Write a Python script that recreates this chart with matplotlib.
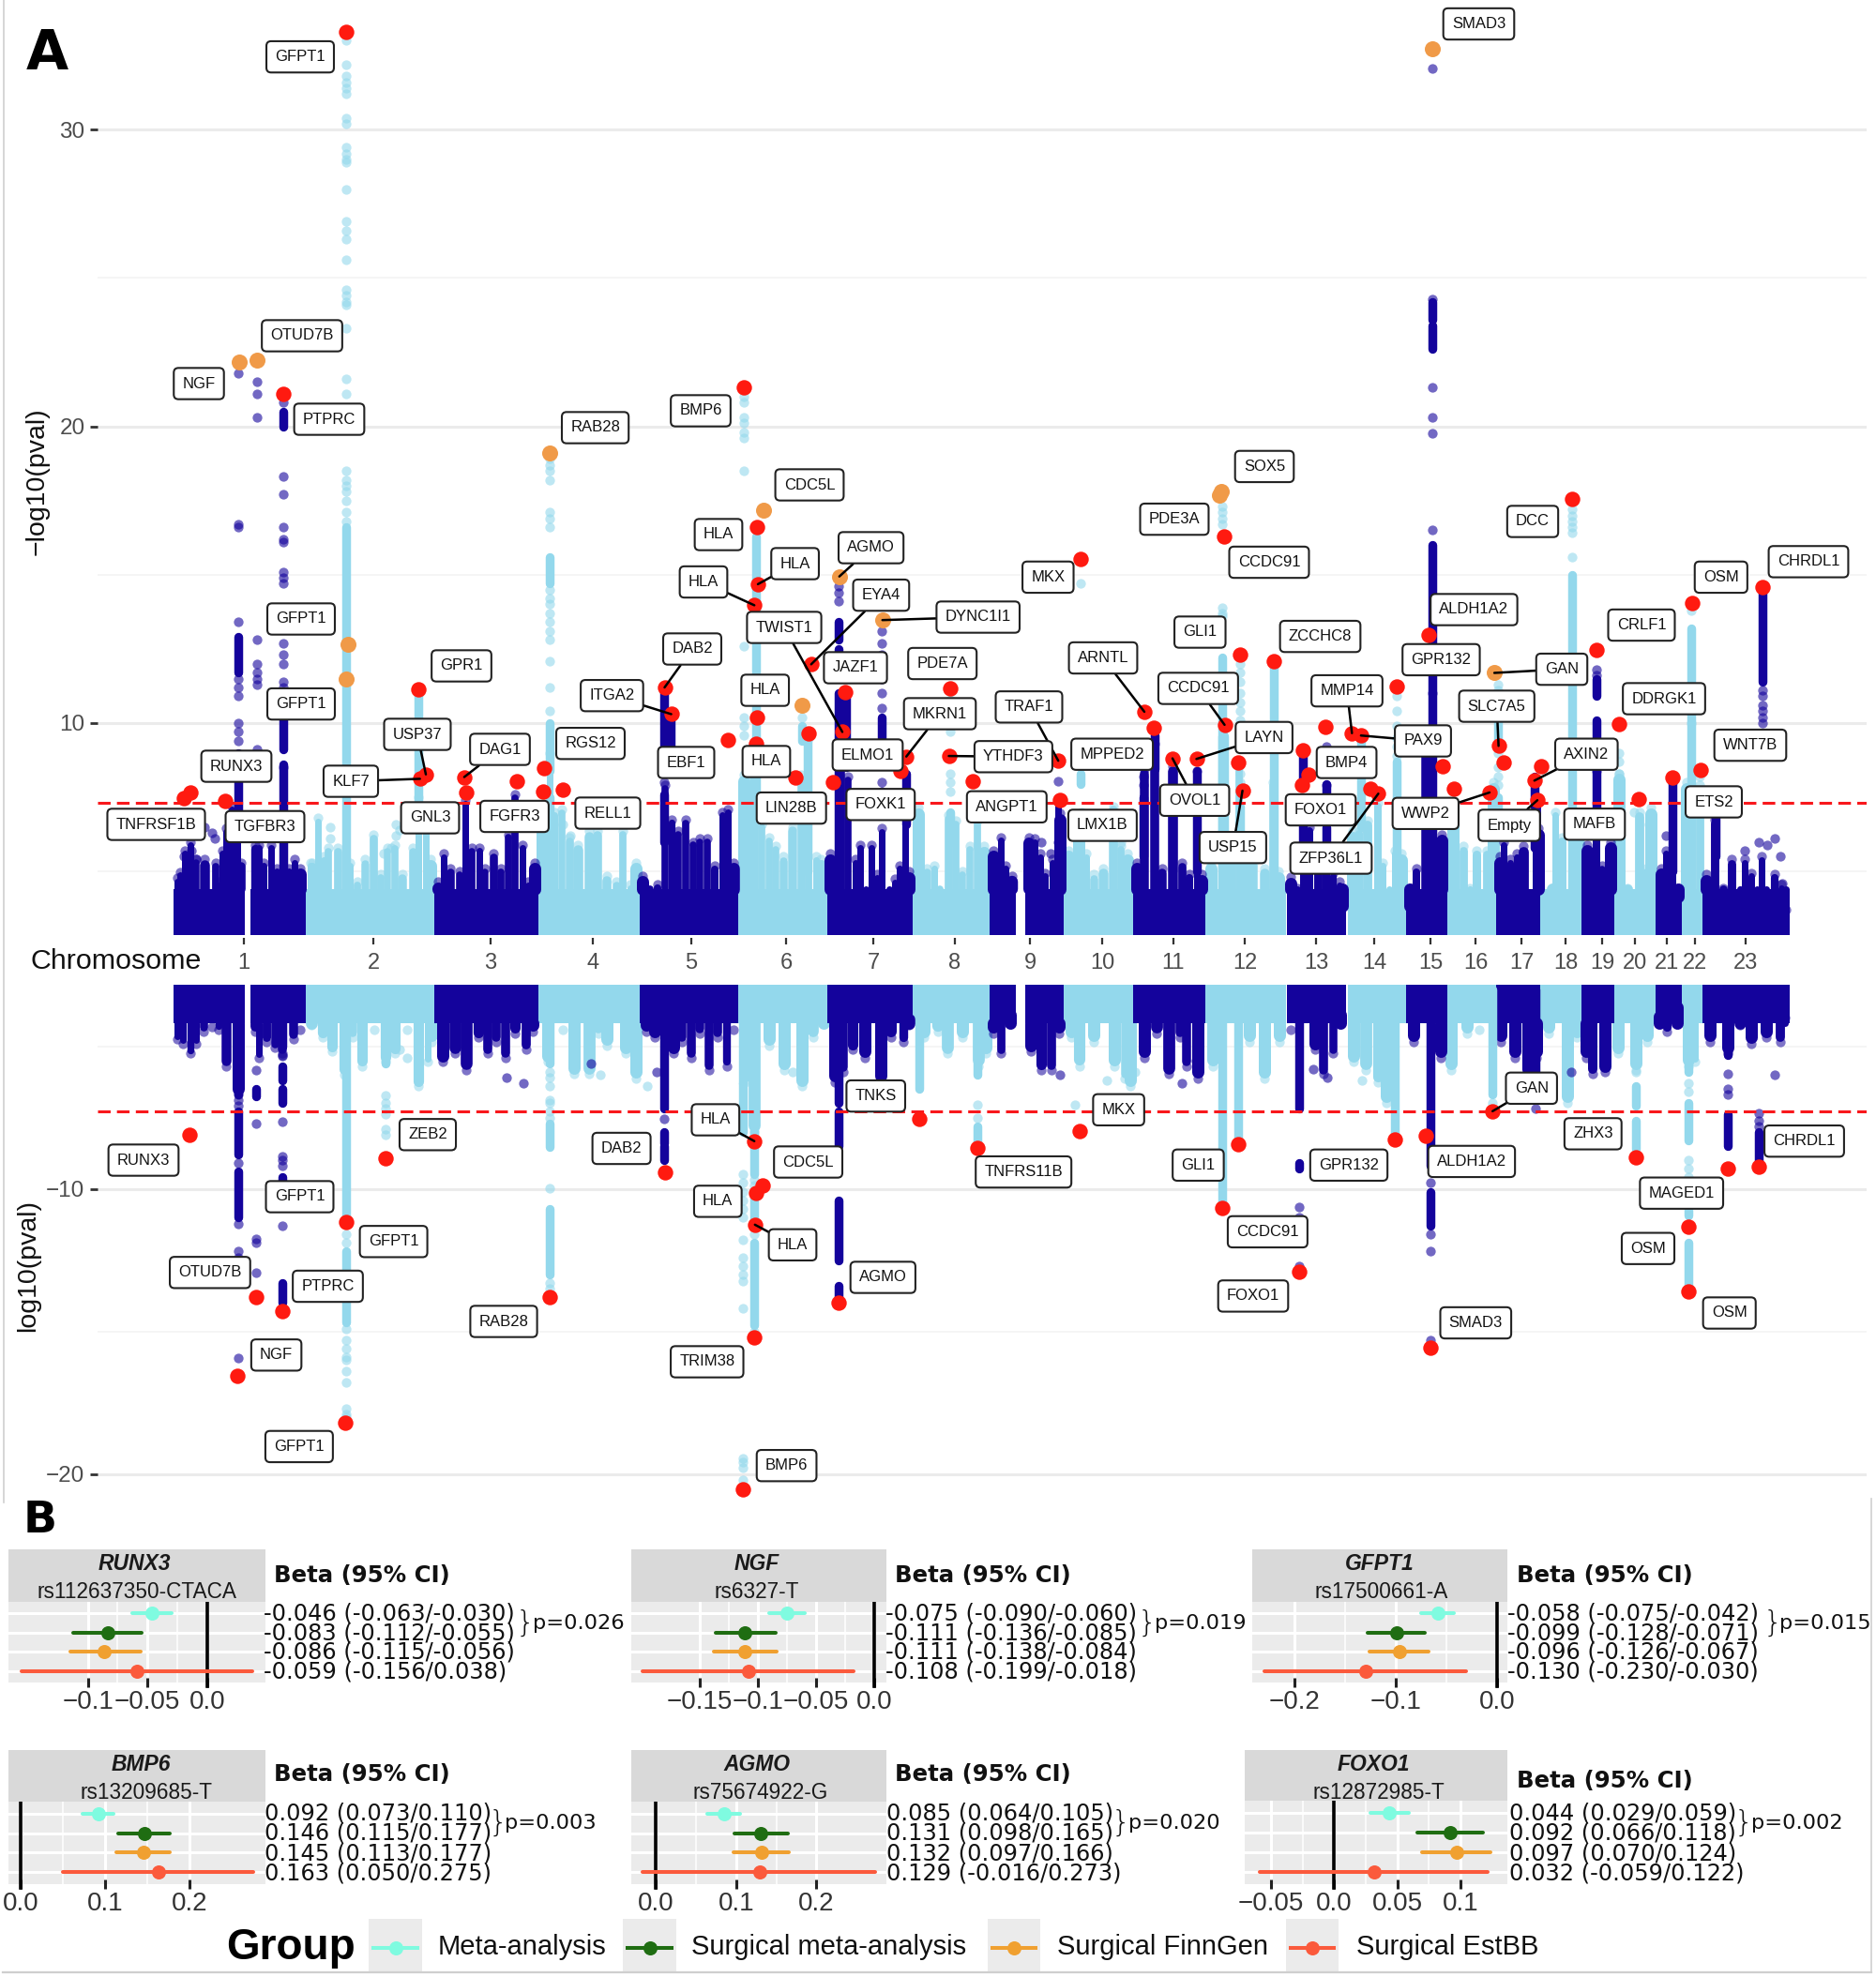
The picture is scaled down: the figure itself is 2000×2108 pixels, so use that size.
import matplotlib

matplotlib.use("Agg")
import matplotlib.pyplot as plt
from matplotlib.lines import Line2D
from matplotlib.patches import Rectangle
from matplotlib.transforms import Affine2D
import numpy as np

W, H = 2000, 2108
DARK = "#14039c"
LIGHT = "#93d8ec"
RED = "#ff1a10"
ORANGE = "#f09a48"
GRID = "#ebebeb"
TICK_TXT = "#4d4d4d"
THRESHOLD = 7.3

plt.rcParams["font.family"] = ["Liberation Sans", "DejaVu Sans"]

# chromosome axis
CHR_NAMES = [str(i) for i in range(1, 24)]
CHR_TICKS = [260, 398, 523, 632, 737, 838, 931, 1018, 1098, 1175, 1251, 1327,
             1403, 1465, 1525, 1573, 1622, 1669, 1708, 1743, 1777, 1807, 1861]
DARK_SPANS = [(185, 261), (267, 326), (463, 574), (682, 787), (882, 973),
              (1055, 1083), (1093, 1134), (1208, 1285), (1372, 1435),
              (1499, 1543), (1595, 1642), (1686, 1721), (1765, 1793), (1815, 1908)]
LIGHT_SPANS = [(326, 463), (574, 682), (787, 882), (973, 1055), (1134, 1208),
               (1285, 1371), (1437, 1499), (1543, 1595), (1642, 1686),
               (1721, 1765), (1793, 1815)]

# upper panel: outline of the dense point cloud
TOP_DARK_X = [189, 191.5, 197, 203, 209, 218, 230, 233.6, 237.4, 241, 247, 252.7, 257,
              272, 275.7, 281.4, 289, 295, 302, 308, 314, 320,
              467, 472.8, 480.4, 490, 495.7, 503.4, 511, 516.8, 526, 534, 541.6, 549.3, 557, 562.7, 570,
              685, 692.8, 700.5, 709, 715.8, 723.4, 731, 738.8, 746.4, 754, 761.7, 770, 775.7, 781.5,
              884.8, 896.3, 904, 911.6, 917.3, 923, 928.8, 934.6, 940.3, 948, 953.7, 959.4, 965.2, 969,
              1059, 1066.6, 1072.3, 1079,
              1097.2, 1103, 1108.7, 1114.4, 1122, 1127.8, 1130,
              1212, 1219.7, 1231, 1238.8, 1250, 1259.8, 1267.5, 1276, 1281,
              1376, 1383, 1388.6, 1395.7, 1404.6, 1413.6, 1420.7, 1427.9, 1431,
              1503, 1510, 1519, 1527, 1536.8,
              1599.3, 1602.9, 1610, 1617, 1624.3, 1638.6, 1640,
              1692, 1701.8, 1708, 1717,
              1770.7, 1776, 1783, 1789,
              1819, 1827.9, 1836.8, 1845.7, 1854.6, 1860, 1867, 1872.5, 1877.9, 1883, 1892, 1899.3, 1904]
TOP_DARK_Y = [4.77, 4.98, 5.7, 6.0, 5.4, 5.4, 5.3, 4.65, 5.7, 6.45, 7.2, 8.3, 5.3,
              5.9, 5.9, 5.3, 5.9, 5.1, 8.5, 5.1, 5.4, 5.1,
              4.65, 5.6, 5.1, 5.0, 7.4, 5.8, 5.8, 5.1, 5.6, 5.1, 6.25, 7.6, 5.9, 4.65, 5.3,
              4.85, 4.25, 4.55, 7.9, 6.75, 6.35, 6.75, 6.0, 6.1, 6.1, 5.2, 7.0, 7.1, 5.3,
              5.6, 9.3, 8.2, 5.4, 5.9, 4.25, 5.9, 4.9, 6.45, 4.25, 4.75, 5.2, 8.25, 5.0,
              5.7, 6.15, 5.2, 4.85,
              6.15, 6.1, 5.6, 4.95, 5.4, 7.4, 6.95,
              5.3, 8.45, 9.3, 5.1, 8.55, 5.3, 4.9, 8.4, 4.9,
              4.8, 4.45, 7.0, 6.5, 5.1, 7.9, 4.95, 4.65, 4.05,
              4.05, 5.1, 9.2, 11.0, 6.25,
              5.5, 6.0, 5.4, 5.6, 5.85, 7.4, 6.45,
              5.9, 8.4, 5.2, 6.0,
              5.1, 5.7, 8.0, 4.35,
              4.9, 6.75, 4.45, 5.4, 3.85, 5.4, 4.95, 3.85, 5.5, 4.05, 4.9, 4.55, 3.7]
TOP_LIGHT_X = [331, 333, 339, 344.6, 350, 360, 367.5, 373, 381, 388.6, 398, 406, 413.4, 421,
               428.8, 440, 446, 453.6, 459,
               578, 585.7, 591.4, 599, 606.7, 616.3, 627.8, 637.3, 647, 656.5, 664, 672, 678,
               793, 804.4, 812, 819.8, 827.4, 835, 844.6, 854, 861.8, 869.5, 875,
               978.6, 988, 995.8, 1001.5, 1011, 1018.8, 1026.4, 1034, 1041.7, 1049.4,
               1139.3, 1147, 1152.7, 1158.4, 1166, 1175.7, 1187, 1194.8, 1202.4,
               1290.5, 1303.9, 1313.4, 1321, 1328.8, 1336.4, 1347.9, 1357.4, 1363,
               1442, 1449.3, 1458.2, 1469, 1474.3, 1481.4, 1486.8, 1494,
               1549.3, 1560, 1567, 1574.3, 1585, 1592,
               1654.6, 1658, 1665.4, 1676, 1683,
               1726, 1735, 1747.5, 1754.6, 1760,
               1797.5, 1803, 1811.8]
TOP_LIGHT_Y = [5.3, 5.3, 6.8, 5.5, 5.8, 5.8, 8.0, 5.3, 4.65, 5.4, 6.25, 4.9, 5.8, 5.9,
               4.9, 5.8, 7.5, 7.2, 5.4,
               7.2, 9.0, 7.0, 7.1, 6.15, 5.9, 6.35, 6.35, 4.85, 4.65, 6.35, 4.55, 5.3,
               8.25, 9.3, 6.6, 6.15, 5.85, 5.5, 6.5, 8.25, 9.5, 5.5, 5.4,
               7.15, 5.1, 5.2, 4.3, 6.9, 6.7, 5.0, 5.85, 6.7, 5.85,
               5.7, 6.15, 7.0, 5.6, 4.9, 5.1, 7.2, 5.85, 5.6,
               5.3, 9.75, 6.15, 8.55, 5.9, 5.3, 5.1, 8.0, 5.0,
               6.35, 6.4, 6.7, 7.3, 5.3, 4.15, 5.7, 5.6,
               7.1, 5.85, 4.45, 5.7, 5.7, 8.0,
               4.05, 7.0, 6.15, 9.0, 6.15,
               8.3, 4.45, 7.0, 5.1, 7.15,
               8.0, 10.0, 7.2]

# upper panel: columns above the cloud (x, separate points, solid runs)
TOP_DARK_COLS = [
    (254, [21.8, 16.7, 16.6, 13.4, 11.5, 11.2, 10.9, 10.0, 9.7, 9.4], [(11.7, 12.9), (7.0, 9.0)]),
    (274, [21.5, 21.1, 20.3, 12.8, 12.0, 11.7, 11.5, 11.3, 9.1, 8.8, 8.3], []),
    (302, [20.8, 18.3, 17.7, 16.6, 16.2, 16.1, 15.1, 14.9, 14.7, 12.7, 12.3, 12.0, 11.4, 11.2],
     [(20.0, 20.5), (9.1, 10.4), (5.0, 8.6)]),
    (708, [8.0], [(8.4, 11.2), (6.0, 7.6)]),
    (715, [], [(8.6, 10.3)]),
    (894, [14.6, 14.4, 14.1], [(12.8, 13.4), (12.0, 12.5), (5.0, 11.0)]),
    (902, [], [(8.5, 10.9)]),
    (940, [13.1, 12.7, 12.3, 12.0, 11.5, 11.0, 10.5, 8.0, 7.7], [(9.3, 10.2)]),
    (966, [], [(6.6, 8.3)]),
    (1128, [8.05], []),
    (1219, [8.2, 7.9], [(5.5, 7.5)]),
    (1231, [], [(8.45, 9.6)]),
    (1250, [], [(7.9, 8.4), (5.0, 7.2)]),
    (1276, [], [(7.9, 8.4), (5.0, 7.2)]),
    (1389, [], [(8.1, 8.9), (5.0, 7.0)]),
    (1414, [9.2, 8.9], [(7.6, 7.95), (5.0, 6.5)]),
    (1527, [32.06, 24.3, 21.3, 20.3, 19.76, 16.5], [(23.6, 24.2), (22.6, 23.4), (9.0, 16.0), (3.5, 9.0)]),
    (1636, [], [(7.2, 8.2), (5.8, 7.0)]),
    (1702, [11.8, 11.6], [(10.9, 11.5), (9.3, 10.1), (6.5, 8.4)]),
    (1783, [], [(5.0, 8.1)]),
    (1829, [], [(5.5, 6.8)]),
    (1879, [11.1, 10.9, 10.6, 10.4, 10.2, 10.0], [(11.4, 14.4)]),
]
TOP_LIGHT_COLS = [
    (368.6, [33.0, 32.2, 31.8, 31.6, 31.4, 31.2, 30.4, 30.2, 29.4, 29.2, 29.0, 28.9, 28.0, 26.9, 26.6, 26.3,
             25.6, 24.6, 24.4, 24.2, 24.1, 23.3, 21.6, 21.1, 18.5, 18.2, 18.0, 17.8, 17.5, 17.1, 16.8],
     [(3.5, 16.6)]),
    (585.5, [18.9, 18.7, 18.5, 18.2, 17.1, 16.9, 16.6, 14.5, 14.2, 14.0, 13.7, 13.4, 13.1, 12.8, 12.1, 11.2, 10.4],
     [(14.7, 15.6), (8.4, 10.0), (3.5, 7.5)]),
    (793, [21.0, 20.8, 20.3, 20.1, 19.8, 19.6, 18.5, 12.6, 10.2, 9.9, 9.6], [(4.0, 8.0)]),
    (806, [], [(7.0, 16.3)]),
    (855, [10.2], [(9.4, 9.9)]),
    (861, [], [(5.0, 9.6)]),
    (446, [], [(7.2, 11.0)]),
    (1013, [10.8, 9.7, 8.3, 8.0, 7.7], [(6.0, 7.0)]),
    (1152, [14.7], [(7.95, 8.3)]),
    (1303, [17.3, 17.1, 16.9, 16.7, 13.9, 13.7, 13.6], [(3.5, 12.2)]),
    (1322, [12.0, 11.7, 11.4, 11.0, 10.7, 10.4, 10.1, 9.8, 9.5, 8.3, 8.0, 7.7], [(3.5, 7.2)]),
    (1358, [], [(3.5, 12.0)]),
    (1451, [], [(6.5, 9.4)]),
    (1489, [10.9, 10.4, 9.9, 9.5, 9.2, 8.9], [(7.4, 8.7), (5.0, 6.8)]),
    (1597, [11.3, 11.1, 10.9, 10.4, 9.0, 8.5, 8.2, 7.9], [(6.5, 7.5), (9.4, 10.1)]),
    (1676, [17.2, 17.0, 16.8, 16.6, 16.4, 15.6], [(3.5, 15.0)]),
    (1726, [9.0, 8.7, 8.3, 7.9, 7.4], []),
    (1803, [13.8], [(3.5, 13.2)]),
    (1812, [8.2, 7.9], []),
    (352, [6.5, 6.1], []),
    (422, [6.6, 6.2], []),
]
TOP_DARK_DOTS_X = [218, 226, 229, 196, 204, 209, 1120, 1128, 1110, 1875, 1884, 1892, 1898, 1860, 1776, 1900]
TOP_DARK_DOTS_Y = [6.5, 6.3, 6.1, 5.5, 5.7, 5.4, 5.6, 6.0, 6.0, 6.0, 5.9, 6.1, 5.5, 5.7, 6.2, 4.6]
TOP_LIGHT_DOTS_X = [426, 417, 409, 600, 608, 1195, 1200, 1290, 1400, 1742, 1758]
TOP_LIGHT_DOTS_Y = [6.4, 5.8, 5.6, 6.6, 6.2, 6.0, 6.4, 5.5, 5.3, 7.0, 6.6]

# upper panel: lead variants
TOP_RED_X = [195.8, 202.8, 240.4, 301.7, 368.6, 446.4, 454, 447.7, 494.9, 496.8, 551, 580.4, 579, 599.5,
             708.5, 715.6, 776, 793.4, 806.8, 808, 804.2, 864.8, 806.8, 805.5, 861.6, 848.2, 888.4, 898,
             901.1, 966.2, 959.8, 1012.8, 1011.5, 1037, 1128.2, 1130, 1151.8, 1220, 1230.2, 1250, 1275.5,
             1305.5, 1304.8, 1322, 1320, 1324.6, 1358.4, 1389, 1395.4, 1387.8, 1413.3, 1441.3, 1450.9,
             1489.2, 1460.5, 1469.4, 1523, 1538.3, 1549.7, 1588, 1597.6, 1602.7, 1642.9, 1635.8, 1639,
             1676, 1701.5, 1725.8, 1747.4, 1783.2, 1803.6, 1812.5, 1878.8]
TOP_RED_Y = [7.46, 7.66, 7.38, 21.1, 33.3, 11.13, 8.27, 8.12, 8.18, 7.66, 8.04, 8.47, 7.7, 7.76,
             11.2, 10.3, 9.44, 21.33, 16.6, 14.68, 13.97, 11.98, 10.18, 9.3, 9.66, 8.17, 8.02, 9.7,
             11.03, 8.87, 8.4, 11.17, 8.89, 8.04, 8.73, 7.42, 15.52, 10.38, 9.84, 8.81, 8.79,
             9.94, 16.29, 12.32, 8.67, 7.72, 12.08, 9.09, 8.27, 7.92, 9.86, 9.66, 9.58,
             11.23, 7.78, 7.62, 12.98, 8.53, 7.8, 7.66, 9.23, 8.67, 8.53, 8.06, 7.4,
             17.54, 12.46, 9.98, 7.44, 8.15, 14.05, 8.43, 14.58]
TOP_ORANGE_X = [254.5, 274.2, 370.5, 369.3, 585.5, 813.8, 894.8, 940.7, 855.2, 1527.4, 1301.7, 1299.7, 1593.1]
TOP_ORANGE_Y = [22.16, 22.22, 12.64, 11.5, 19.11, 17.18, 14.94, 13.47, 10.6, 32.72, 17.8, 17.68, 11.69]

# lower panel: outline of the dense point cloud
BOT_DARK_X = [189, 194.5, 202.8, 209.2, 216.8, 226.4, 232.8, 241, 253.8,
              272, 275.5, 283.8, 293.4, 301, 312.5, 320,
              472, 484.7, 497.4, 510, 519.8, 529.3, 539, 548.5, 561, 568,
              688.8, 698.3, 717.5, 727, 736.6, 746.2, 755.7, 765.3, 774.9, 782,
              889.7, 899.2, 908.8, 921.6, 938.8, 950.3, 963, 969,
              1059, 1067, 1076.5, 1098.9, 1109.7, 1121.2, 1129,
              1220, 1232.8, 1245.5, 1258.3, 1264.7, 1277.4,
              1376.3, 1401.8, 1411.4, 1421, 1428.6,
              1507, 1535.7, 1599.5, 1615.4, 1628.2, 1637.8,
              1691, 1698.3, 1711, 1769, 1776.8, 1787.6,
              1822.7, 1841.8, 1854.6, 1867.3, 1883.3, 1898, 1903]
BOT_DARK_Y = [-4.76, -4.91, -5.26, -4.91, -4.48, -4.34, -4.41, -5.69, -6.7,
              -4.48, -5.4, -4.84, -5.05, -5.26, -4.76, -4.41,
              -5.55, -5.26, -5.83, -4.69, -5.26, -4.84, -5.4, -4.55, -5.12, -4.48,
              -4.48, -4.69, -5.26, -4.84, -5.4, -4.55, -5.83, -4.69, -5.69, -4.41,
              -6.26, -5.91, -5.12, -5.4, -6.26, -4.69, -4.84, -4.27,
              -4.55, -5.26, -4.12, -5.19, -5.83, -5.83, -4.55,
              -5.4, -4.55, -5.98, -4.69, -5.69, -6.12,
              -4.41, -5.12, -5.98, -5.26, -4.12,
              -4.84, -5.4, -4.84, -5.4, -5.98, -5.4,
              -5.4, -5.98, -5.91, -4.19, -4.48, -3.84,
              -4.84, -5.26, -4.27, -4.91, -4.69, -4.84, -3.98]
BOT_LIGHT_X = [331.6, 344.4, 354, 366.7, 376.3, 385.8, 398.6, 411.4, 421, 433.7, 446.4, 456, 460,
               583.5, 599.5, 612.2, 628, 637.8, 647.3, 666.5, 678,
               794, 804, 819.5, 835.5, 854.6, 867.3, 878,
               985, 1000, 1009.6, 1025.5, 1043.4, 1051,
               1141.6, 1151, 1165.8, 1188, 1199, 1205,
               1293.4, 1331.6, 1347.6, 1363.5,
               1443.2, 1456, 1468.8, 1478.3,
               1547.2, 1564.4, 1577,
               1650.5, 1670.9, 1681,
               1725, 1743.6, 1755.7, 1800.4, 1806.8]
BOT_LIGHT_Y = [-4.27, -4.69, -5.19, -6.0, -4.69, -5.69, -4.41, -5.55, -5.26, -4.41, -6.41, -5.55, -4.84,
               -5.55, -4.41, -5.98, -5.98, -4.55, -4.98, -5.26, -6.12,
               -6.26, -8.0, -4.98, -5.83, -6.41, -4.69, -4.12,
               -4.7, -4.5, -5.26, -4.69, -5.69, -5.26,
               -4.69, -5.69, -4.84, -5.69, -6.12, -6.41,
               -5.69, -4.84, -6.12, -4.84,
               -5.55, -5.83, -6.26, -6.98,
               -5.83, -4.55, -4.41,
               -4.55, -6.98, -4.69,
               -5.26, -5.83, -4.84, -5.69, -5.55]

BOT_DARK_COLS = [
    (253.5, [-6.9, -7.1, -9.1, -11.23, -12.18, -12.4, -15.95], [(-6.7, -3.0), (-8.8, -7.3), (-11.0, -9.4)]),
    (273, [-5.85, -7.7, -11.75, -11.9, -12.94], [(-6.75, -6.5)]),
    (301, [-5.3, -5.35, -7.65, -8.85, -9.0, -9.2, -11.3],
     [(-5.0, -4.0), (-6.2, -5.7), (-7.0, -6.5), (-10.2, -9.6), (-14.0, -13.3)]),
    (708, [-7.55], [(-7.2, -3.0), (-8.4, -8.0), (-9.0, -8.5)]),
    (893.5, [], [(-7.0, -3.0), (-8.5, -7.3), (-12.5, -10.4), (-14.0, -13.4)]),
    (1385, [-10.65, -11.0, -11.3, -11.6, -12.7], [(-7.2, -3.0), (-9.3, -9.1)]),
    (1525, [-9.8, -11.6, -12.2, -15.3], [(-9.2, -3.0), (-11.3, -10.1)]),
    (1637, [-7.2], [(-6.5, -3.0)]),
    (1842, [-5.97, -6.5, -6.7], [(-5.3, -4.2), (-8.5, -7.4)]),
    (1875, [-7.35, -7.6, -7.8], [(-9.1, -8.0)]),
]
BOT_LIGHT_COLS = [
    (368.6, [-11.6, -11.9, -13.0, -13.6, -14.9, -15.3, -15.6, -15.9, -16.0, -16.4, -16.8, -17.7, -17.9, -18.0],
     [(-11.0, -3.0), (-12.8, -12.2), (-14.7, -14.0)]),
    (410.7, [-6.73, -7.0, -7.2, -7.4, -7.9, -8.1], [(-5.6, -4.0)]),
    (585.5, [-5.9, -6.1, -6.4, -6.9, -7.0, -7.3, -7.5, -9.97, -13.3, -13.5],
     [(-5.6, -3.0), (-8.55, -7.7), (-13.0, -10.7)]),
    (804, [-9.7, -9.9, -11.6, -15.0], [(-9.5, -3.0), (-11.2, -10.2), (-14.8, -11.9)]),
    (792, [-9.5, -9.8, -10.1, -10.4, -10.7, -11.0, -11.8, -12.4, -12.7, -13.0, -13.25, -14.2, -19.45, -19.6,
           -19.8, -20.2], [(-6.3, -3.0), (-8.0, -6.3)]),
    (980, [], [(-6.5, -3.0)]),
    (1042, [-7.05, -7.5], [(-6.0, -3.0), (-8.4, -7.8)]),
    (1303, [], [(-10.5, -3.0)]),
    (1319.5, [], [(-8.2, -3.0)]),
    (1487, [], [(-8.1, -3.0)]),
    (1591, [-7.0], [(-6.7, -3.0)]),
    (1743.6, [-5.0, -5.9], [(-7.1, -6.4), (-8.6, -7.6)]),
    (1800, [-6.3, -6.6, -9.0, -9.3, -9.6, -10.0], [(-5.9, -3.0), (-8.3, -7.0), (-10.95, -10.7), (-13.4, -11.9)]),
]
BOT_DARK_DOTS_X = [540, 558, 630, 700, 1130, 1260, 1275, 1400, 1415, 1675, 1892]
BOT_DARK_DOTS_Y = [-6.1, -6.3, -5.6, -5.9, -6.0, -6.3, -5.5, -5.8, -6.1, -5.9, -6.0]
BOT_LIGHT_DOTS_X = [426, 434, 690, 640, 845, 1146, 1184, 1210, 1180, 1452]
BOT_LIGHT_DOTS_Y = [-5.1, -5.4, -6.4, -6.0, -5.9, -7.05, -6.9, -5.9, -6.2, -6.2]

BOT_RED_X = [202.2, 410.7, 273, 301, 253.2, 368.6, 368, 585.5, 708.5, 804.2, 813, 805.5, 804.8, 803.6, 792,
             893.5, 980.2, 1042, 1150.5, 1303, 1319.5, 1385.2, 1487, 1519.8, 1524.9, 1591.2, 1743.6,
             1800.4, 1800.4, 1841.8, 1875]
BOT_RED_Y = [-8.12, -8.93, -13.79, -14.29, -16.56, -11.16, -18.19, -13.79, -9.42, -8.33, -9.9, -10.14, -11.26,
             -15.22, -20.53, -13.98, -7.56, -8.56, -7.97, -10.66, -8.42, -12.9, -8.27, -8.13, -15.56, -7.28,
             -8.9, -11.34, -13.59, -9.3, -9.22]

# gene labels: name, box centre in image pixels, variant the connector goes to
TOP_LABELS = [
    ("GFPT1", 320, 60.6, None), ("OTUD7B", 322, 358, None), ("NGF", 212, 409, None), ("PTPRC", 351, 447, None),
    ("RAB28", 634.6, 456, None), ("BMP6", 747, 438, None), ("CDC5L", 863, 517, None), ("HLA", 766, 570, None),
    ("HLA", 847.6, 601, (808, 14.68)), ("AGMO", 928.6, 584, (894.8, 14.94)), ("HLA", 750, 620.5, (804.2, 13.97)),
    ("EYA4", 939.4, 634.6, (864.8, 11.98)), ("DYNC1I1", 1042.7, 658, (940.7, 13.47)),
    ("TWIST1", 836, 669, (898, 9.7)), ("GFPT1", 321, 660, None), ("GFPT1", 321, 750.6, None), ("GPR1", 492, 710, None),
    ("DAB2", 738, 692, (708.5, 11.2)), ("JAZF1", 912, 712, None), ("PDE7A", 1004.7, 707.5, None),
    ("ITGA2", 652.4, 741.7, (715.6, 10.3)), ("HLA", 815.7, 736, None), ("USP37", 445, 783, (454, 8.27)),
    ("DAG1", 533, 799, (494.9, 8.18)), ("RGS12", 629.5, 792.7, None), ("MKRN1", 1002, 761, (966.2, 8.87)),
    ("EBF1", 731.5, 813, None), ("HLA", 817, 812, None), ("ELMO1", 925, 805, None), ("RUNX3", 252, 817, None),
    ("KLF7", 374, 833, (447.7, 8.12)), ("GNL3", 458.5, 872, None), ("FGFR3", 548.5, 870.5, None),
    ("RELL1", 648, 867, None), ("LIN28B", 843.7, 861.6, None), ("FOXK1", 938.8, 857.8, None),
    ("TNFRSF1B", 166.5, 879, None), ("TGFBR3", 282.5, 881.4, None),
    ("SMAD3", 1576.5, 25.5, None), ("SOX5", 1348, 497.4, None), ("PDE3A", 1252, 553.6, None), ("DCC", 1634, 556, None),
    ("CCDC91", 1353, 599.5, None), ("MKX", 1117.3, 615.4, None), ("OSM", 1834.8, 615.4, None),
    ("CHRDL1", 1928, 598.9, None), ("ALDH1A2", 1571.4, 650, None), ("CRLF1", 1750, 666.5, None),
    ("GLI1", 1279.3, 674, None), ("ZCCHC8", 1407.5, 678.6, None), ("ARNTL", 1176, 701.5, (1220, 10.38)),
    ("GPR132", 1536.4, 703.4, None), ("GAN", 1665, 713.6, (1593.1, 11.69)), ("CCDC91", 1277.4, 734, (1305.5, 9.94)),
    ("MMP14", 1436, 736.6, (1441.3, 9.66)), ("DDRGK1", 1774, 745, None), ("TRAF1", 1097, 753.8, (1128.2, 8.73)),
    ("SLC7A5", 1595.7, 753, (1597.6, 9.23)), ("LAYN", 1347.6, 786.4, (1275.5, 8.79)),
    ("YTHDF3", 1080.4, 806.8, (1011.5, 8.89)), ("PAX9", 1517, 790, (1450.9, 9.58)), ("WNT7B", 1866, 794.6, None),
    ("MPPED2", 1185.6, 804.2, None), ("AXIN2", 1691.3, 804.2, (1635.8, 8.06)), ("BMP4", 1435.6, 813, None),
    ("OVOL1", 1273.6, 853.3, (1250, 8.81)), ("ANGPT1", 1073.3, 860.3, None), ("FOXO1", 1408, 863.5, None),
    ("ETS2", 1827, 855, None), ("WWP2", 1519.8, 867.3, (1588, 7.66)), ("LMX1B", 1175.4, 880, None),
    ("Empty", 1609, 880, (1639, 7.4)), ("MAFB", 1700, 878.8, None), ("USP15", 1314.4, 903.7, (1324.6, 7.72)),
    ("ZFP36L1", 1419, 915, (1469.4, 7.62)),
]
BOT_LABELS = [
    ("RUNX3", 153, 1237, None), ("ZEB2", 456, 1209.8, None), ("GFPT1", 319.5, 1276, None), ("GFPT1", 419.6, 1323.8, None),
    ("OTUD7B", 223.9, 1356.8, None), ("PTPRC", 349.5, 1371.5, None), ("RAB28", 537, 1409, None), ("NGF", 294.6, 1444.8, None),
    ("GFPT1", 318.9, 1542.4, None), ("DAB2", 662.6, 1224.5, None), ("HLA", 762.8, 1194, (804.2, -8.33)),
    ("TNKS", 933.7, 1168.6, None), ("CDC5L", 861.6, 1239, None), ("HLA", 765.3, 1280.9, None),
    ("HLA", 845, 1327.3, (804.8, -11.26)), ("AGMO", 941.3, 1362, None), ("TRIM38", 753.8, 1452, None),
    ("BMP6", 838.6, 1562.7, None), ("TNFRS11B", 1091.2, 1249.6, None), ("MKX", 1192.6, 1183.3, None),
    ("GLI1", 1277.4, 1242.3, None), ("GPR132", 1438, 1242.3, None), ("ALDH1A2", 1568.9, 1238.4, None),
    ("GAN", 1632.7, 1160.3, (1591.2, -7.28)), ("ZHX3", 1698.3, 1208.9, None), ("CHRDL1", 1923.5, 1216.7, None),
    ("MAGED1", 1792.7, 1272.2, None), ("CCDC91", 1351.4, 1313.4, None), ("OSM", 1757, 1331.2, None),
    ("FOXO1", 1336, 1381.9, None), ("OSM", 1843.7, 1400, None), ("SMAD3", 1573.3, 1410.5, None),
]

# forest plots
GROUPS = ["Meta-analysis", "Surgical meta-analysis", "Surgical FinnGen", "Surgical EstBB"]
GROUP_COLORS = ["#7ffbe0", "#1f6d12", "#f0a030", "#fb5a3c"]
RUNX3_BETA = [-0.046, -0.083, -0.086, -0.059]
RUNX3_LOW = [-0.063, -0.112, -0.115, -0.156]
RUNX3_HIGH = [-0.030, -0.055, -0.056, 0.038]
NGF_BETA = [-0.075, -0.111, -0.111, -0.108]
NGF_LOW = [-0.090, -0.136, -0.138, -0.199]
NGF_HIGH = [-0.060, -0.085, -0.084, -0.018]
GFPT1_BETA = [-0.058, -0.099, -0.096, -0.130]
GFPT1_LOW = [-0.075, -0.128, -0.126, -0.230]
GFPT1_HIGH = [-0.042, -0.071, -0.067, -0.030]
BMP6_BETA = [0.092, 0.146, 0.145, 0.163]
BMP6_LOW = [0.073, 0.115, 0.113, 0.050]
BMP6_HIGH = [0.110, 0.177, 0.177, 0.275]
AGMO_BETA = [0.085, 0.131, 0.132, 0.129]
AGMO_LOW = [0.064, 0.098, 0.097, -0.016]
AGMO_HIGH = [0.105, 0.165, 0.166, 0.273]
FOXO1_BETA = [0.044, 0.092, 0.097, 0.032]
FOXO1_LOW = [0.029, 0.066, 0.070, -0.059]
FOXO1_HIGH = [0.059, 0.118, 0.124, 0.122]

fig = plt.figure(figsize=(W / 100, H / 100), dpi=100, facecolor="white")
PIXEL = Affine2D().scale(1 / W, -1 / H).translate(0, 1) + fig.transFigure


def px_axes(x0, y0, x1, y1, **kw):
    return fig.add_axes([x0 / W, 1 - y1 / H, (x1 - x0) / W, (y1 - y0) / H], **kw)


def ptext(x, y, s, **kw):
    kw.setdefault("va", "center")
    return fig.text(x / W, 1 - y / H, s, **kw)


def draw_cloud(ax, spans, color, sky_x, sky_y, base, cap, px_per_unit):
    sign = 1 if cap > base else -1
    for lo, hi in spans:
        ax.fill_between([lo, hi], base, cap, color=color, lw=0, zorder=2)
    sky_x = np.array(sky_x, dtype=float)
    sky_y = np.array(sky_y, dtype=float)
    widths = np.clip(np.gradient(sky_x), 7, 13)
    tips = sky_y - sign * widths / 2 / px_per_unit
    # round caps give the stacked-point look of the column tops
    ax.vlines(sky_x, cap, tips, colors=color, linewidths=widths * 0.72, capstyle="round", zorder=2)
    ax.scatter(sky_x, sky_y, s=55, color=color, lw=0, alpha=0.55, zorder=2)


def draw_cols(ax, cols, color):
    for x, dots, runs in cols:
        if dots:
            ax.scatter([x] * len(dots), dots, s=55, color=color, lw=0, alpha=0.6, zorder=3)
        for lo, hi in runs:
            ax.plot([x, x], [lo, hi], color=color, lw=6.8, solid_capstyle="round", zorder=3)


def draw_labels(ax, labels):
    box = dict(boxstyle="round,pad=0.55,rounding_size=0.3", fc="white", ec="#222222", lw=1.5)
    for name, cx, cy, target in labels:
        if target is None:
            ax.text(cx, cy, name, transform=PIXEL, fontsize=12, ha="center", va="center",
                    color="#111111", bbox=box, zorder=8, clip_on=False)
        else:
            ax.annotate(name, xy=target, xycoords="data", xytext=(cx, cy), textcoords=PIXEL,
                        fontsize=12, ha="center", va="center", color="#111111", bbox=box, zorder=8,
                        arrowprops=dict(arrowstyle="-", color="black", lw=1.8, shrinkA=0, shrinkB=0))


def style_manhattan(ax, major, minor):
    ax.set_xlim(104, 1990)
    for s in ax.spines.values():
        s.set_visible(False)
    for v in major:
        ax.axhline(v, color=GRID, lw=2.2, zorder=0)
    for v in minor:
        ax.axhline(v, color="#f2f2f2", lw=1.1, zorder=0)
    ax.set_yticks(major)
    ax.tick_params(axis="y", length=5.8, width=2, color="#333333", labelsize=17.5,
                   labelcolor=TICK_TXT, pad=4)
    ax.patch.set_alpha(0)


# panel A, upper
ax_top = px_axes(104, 0, 1990, 1000)
ax_top.set_ylim(2.76, 34.37)
style_manhattan(ax_top, [10, 20, 30], [5, 15, 25])
draw_cloud(ax_top, LIGHT_SPANS, LIGHT, TOP_LIGHT_X, TOP_LIGHT_Y, 2.87, 4.4, 31.65)
draw_cloud(ax_top, DARK_SPANS, DARK, TOP_DARK_X, TOP_DARK_Y, 2.87, 4.4, 31.65)
draw_cols(ax_top, TOP_LIGHT_COLS, LIGHT)
draw_cols(ax_top, TOP_DARK_COLS, DARK)
ax_top.scatter(TOP_LIGHT_DOTS_X, TOP_LIGHT_DOTS_Y, s=55, color=LIGHT, lw=0, alpha=0.6, zorder=3)
ax_top.scatter(TOP_DARK_DOTS_X, TOP_DARK_DOTS_Y, s=55, color=DARK, lw=0, alpha=0.6, zorder=3)
ax_top.plot([104, 1990], [THRESHOLD, THRESHOLD], color="#f8181c", lw=2.2, ls=(0, (4.4, 2.2)), zorder=4)
ax_top.scatter(TOP_ORANGE_X, TOP_ORANGE_Y, s=150, color=ORANGE, lw=0, zorder=5)
ax_top.scatter(TOP_RED_X, TOP_RED_Y, s=140, color=RED, lw=0, zorder=5)
ax_top.set_xticks(CHR_TICKS)
ax_top.set_xticklabels(CHR_NAMES)
ax_top.tick_params(axis="x", length=5, width=1.6, color="#333333", labelsize=17, labelcolor=TICK_TXT, pad=6.5)
draw_labels(ax_top, TOP_LABELS)

# panel A, lower
ax_bot = px_axes(104, 1045, 1990, 1598)
ax_bot.set_ylim(-20.87, -2.68)
style_manhattan(ax_bot, [-10, -20], [-5, -15])
ax_bot.set_xticks([])
draw_cloud(ax_bot, LIGHT_SPANS, LIGHT, BOT_LIGHT_X, BOT_LIGHT_Y, -2.85, -4.2, 30.4)
draw_cloud(ax_bot, DARK_SPANS, DARK, BOT_DARK_X, BOT_DARK_Y, -2.85, -4.2, 30.4)
draw_cols(ax_bot, BOT_LIGHT_COLS, LIGHT)
draw_cols(ax_bot, BOT_DARK_COLS, DARK)
ax_bot.scatter(BOT_LIGHT_DOTS_X, BOT_LIGHT_DOTS_Y, s=55, color=LIGHT, lw=0, alpha=0.6, zorder=3)
ax_bot.scatter(BOT_DARK_DOTS_X, BOT_DARK_DOTS_Y, s=55, color=DARK, lw=0, alpha=0.6, zorder=3)
ax_bot.plot([104, 1990], [-THRESHOLD, -THRESHOLD], color="#f8181c", lw=2.2, ls=(0, (4.4, 2.2)), zorder=4)
ax_bot.scatter(BOT_RED_X, BOT_RED_Y, s=140, color=RED, lw=0, zorder=5)
draw_labels(ax_bot, BOT_LABELS)

ptext(33, 1025, "Chromosome", fontsize=21.9, color="#111111")
ptext(40, 513, "\u2212log10(pval)", fontsize=20.5, rotation=90, ha="center", color="#111111")
ptext(30, 1350, "log10(pval)", fontsize=20.5, rotation=90, ha="center", color="#111111")
ptext(28, 57, "A", fontsize=42, fontweight="bold", family="DejaVu Sans", color="black")
ptext(25, 1621, "B", fontsize=34, fontweight="bold", family="DejaVu Sans", color="black")


def forest(box, zero_px, scale, ticks, gene, rs, beta, low, high, pval, text_x, head_x, p_x, names_x, head_y, rows_y):
    x0, strip_top, x1, strip_bot, panel_bot = box
    ax = px_axes(x0, strip_bot, x1, panel_bot, facecolor=GRID)
    ax.set_xlim((x0 - zero_px) / scale, (x1 - zero_px) / scale)
    ax.set_ylim(4.6, 0.4)
    for s in ax.spines.values():
        s.set_visible(False)
    ax.set_xticks(ticks)
    ax.set_xticklabels([f"{t}".replace("-", "\u2212") for t in ticks])
    ax.set_yticks([])
    ax.tick_params(axis="x", direction="inout", length=7.2, width=2.2, color="#222222",
                   labelsize=20, labelcolor="#333333", pad=2.5)
    for t in ticks:
        ax.axvline(t, color="white", lw=2.2, zorder=1)
    for a, b in zip(ticks[:-1], ticks[1:]):
        ax.axvline((a + b) / 2, color="white", lw=1.1, zorder=1)
    for r in range(1, 5):
        ax.axhline(r, color="white", lw=2.2, zorder=1)
    ax.plot([0, 0], [0.4, 4.8], color="black", lw=2.6, zorder=2, clip_on=False)
    rows = np.arange(1, 5)
    for r, b, lo, hi, c in zip(rows, beta, low, high, GROUP_COLORS):
        ax.plot([lo, hi], [r, r], color=c, lw=2.9, solid_capstyle="round", zorder=3)
        ax.plot([b], [r], "o", color=c, ms=10.8, mew=0, zorder=4)
    fig.add_artist(Rectangle((x0 / W, 1 - strip_bot / H), (x1 - x0) / W, (strip_bot - strip_top) / H,
                             transform=fig.transFigure, fc="#d9d9d9", ec="none"))
    ptext(names_x[0], strip_top + 15.5, gene, fontsize=16.5, style="italic", fontweight="bold",
          ha="center", color="#1a1a1a")
    ptext(names_x[1], strip_top + 45, rs, fontsize=16.3, ha="center", color="#1a1a1a")
    ptext(head_x, head_y, "Beta (95% CI)", fontsize=17.6, fontweight="bold", family="DejaVu Sans", color="#111111")
    for y, b, lo, hi in zip(rows_y, beta, low, high):
        ptext(text_x, y, f"{b:.3f} ({lo:.3f}/{hi:.3f})", fontsize=17.4, family="DejaVu Sans", color="#111111")
    mid = (rows_y[0] + rows_y[1]) / 2
    ptext(p_x - 4, mid, "}", fontsize=23, family="DejaVu Sans", color="#111111", fontweight="light")
    ptext(p_x + 14, mid, f"p={pval}", fontsize=16.2, family="DejaVu Sans", color="#111111")


ROWS_1 = [1720.5, 1741, 1762, 1782.5]
ROWS_2 = [1933.5, 1954.5, 1976.5, 1997.5]
forest((9, 1652, 282.5, 1708, 1794), 220.7, 1270, [-0.1, -0.05, 0.0], "RUNX3", "rs112637350-CTACA",
       RUNX3_BETA, RUNX3_LOW, RUNX3_HIGH, "0.026", 280.6, 291.5, 553.6, (143, 146), 1680, ROWS_1)
forest((672.8, 1652, 945, 1708, 1794), 932.4, 1245, [-0.15, -0.1, -0.05, 0.0], "NGF", "rs6327-T",
       NGF_BETA, NGF_LOW, NGF_HIGH, "0.019", 944, 953.5, 1216.8, (806.8, 806.8), 1680, ROWS_1)
forest((1334.8, 1652, 1607, 1708, 1794), 1595.7, 1078, [-0.2, -0.1, 0.0], "GFPT1", "rs17500661-A",
       GFPT1_BETA, GFPT1_LOW, GFPT1_HIGH, "0.015", 1607, 1617.3, 1883.3, (1470.7, 1472.6), 1680, ROWS_1)
forest((9, 1866, 282.5, 1921, 2009), 22.3, 899, [0.0, 0.1, 0.2], "BMP6", "rs13209685-T",
       BMP6_BETA, BMP6_LOW, BMP6_HIGH, "0.003", 282.5, 291.5, 524.2, (150, 155.6), 1892, ROWS_2)
forest((672.8, 1866, 945, 1921, 2009), 699, 857, [0.0, 0.1, 0.2], "AGMO", "rs75674922-G",
       AGMO_BETA, AGMO_LOW, AGMO_HIGH, "0.020", 945, 953.5, 1188.8, (806.8, 811), 1892, ROWS_2)
forest((1327, 1866, 1607, 1920, 2009), 1422.2, 1346, [-0.05, 0.0, 0.05, 0.1], "FOXO1", "rs12872985-T",
       FOXO1_BETA, FOXO1_LOW, FOXO1_HIGH, "0.002", 1609, 1617.3, 1852.7, (1464.3, 1470), 1899, ROWS_2)

# legend
ptext(241, 2077, "Group", fontsize=33, fontweight="bold", color="black")
key_spans = [(393, 450), (664, 721), (1053, 1109), (1370.5, 1427)]
label_x = [467, 736.6, 1127, 1445.8]
for (k0, k1), lx, name, c in zip(key_spans, label_x, GROUPS, GROUP_COLORS):
    fig.add_artist(Rectangle((k0 / W, 1 - 2102 / H), (k1 - k0) / W, 56 / H, transform=fig.transFigure,
                             fc="#ebebeb", ec="none"))
    fig.add_artist(Line2D([(k0 + 5) / W, (k1 - 5) / W], [1 - 2076.5 / H] * 2, color=c, lw=2.9))
    fig.add_artist(Line2D([(k0 + k1) / 2 / W], [1 - 2076.5 / H], marker="o", ms=10.8, mew=0, color=c))
    ptext(lx, 2076, name, fontsize=21, color="#111111")

# image border
border = "#cfcfcf"
fig.add_artist(Line2D([3.5 / W, 3.5 / W], [1 - 1602 / H, 1], color=border, lw=1.2))
fig.add_artist(Line2D([1995 / W, 1995 / W], [1 - 2103 / H, 1 - 1598 / H], color=border, lw=1.2))
fig.add_artist(Line2D([3 / W, 1995 / W], [1 - 2103 / H, 1 - 2103 / H], color=border, lw=1.6))

fig.savefig("out.png", dpi=100)
